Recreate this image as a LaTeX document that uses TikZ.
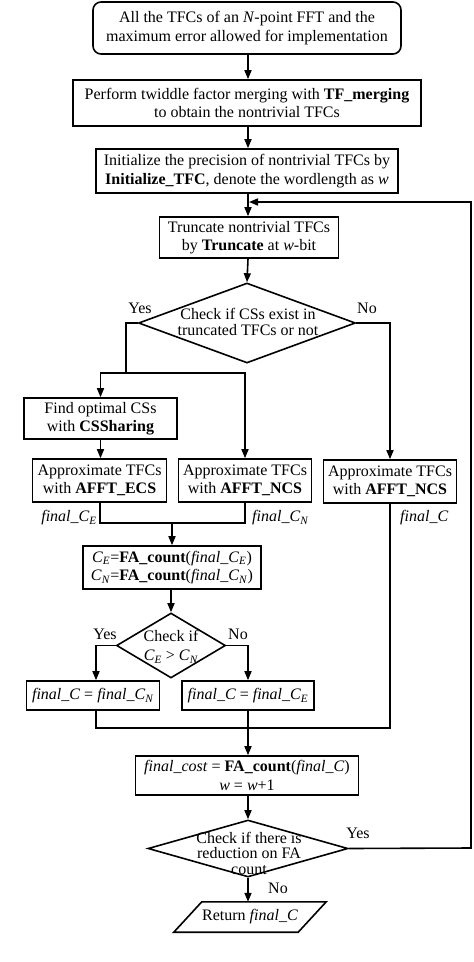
\documentclass[tikz,border=0pt]{standalone}
\usepackage{fontspec}
\setmainfont{Liberation Serif}
\usetikzlibrary{shapes.geometric,arrows.meta}
\tikzset{
  box/.style={draw, line width=1.6pt, align=center, inner sep=0pt, font=\fontsize{16}{18.5}\selectfont},
  dia/.style={draw, diamond, line width=1.6pt, inner sep=0pt},
  dtext/.style={align=center, inner sep=0pt, font=\fontsize{16}{15.5}\selectfont},
  lbl/.style={inner sep=0pt, font=\fontsize{16}{18}\selectfont},
  conn/.style={line width=1.6pt},
  arr/.style={line width=1.6pt, -{Triangle[length=9pt,width=7pt]}},
}
\begin{document}
\begin{tikzpicture}[x=1pt,y=-1pt]
\useasboundingbox (0,0) rectangle (474,962);
% nodes
\node[box, rounded corners=8pt, minimum width=308pt, minimum height=52pt] (start) at (247,28)
  {All the TFCs of an \textit{N}-point FFT and the\\maximum error allowed for implementation};
\node[box, minimum width=348pt, minimum height=46pt] (merge) at (247,103)
  {Perform twiddle factor merging with \textbf{TF\_merging}\\to obtain the nontrivial TFCs};
\node[box, minimum width=302pt, minimum height=44pt] (init) at (247,171)
  {Initialize the precision of nontrivial TFCs by\\\textbf{Initialize\_TFC}, denote the wordlength as \textit{w}};
\node[box, minimum width=179pt, minimum height=41pt] (trunc) at (249,237.5)
  {Truncate nontrivial TFCs\\by \textbf{Truncate} at \textit{w}-bit};
\node[dia, minimum width=217pt, minimum height=80pt] (d1) at (247,323) {};
\node[dtext] (d1t) at (248,322) {Check if CSs exist in\\truncated TFCs or not};
\node[box, minimum width=153pt, minimum height=41pt] (find) at (100.5,418.5)
  {Find optimal CSs\\with \textbf{CSSharing}};
\node[box, minimum width=134pt, minimum height=43pt] (ecs) at (99.5,480.5)
  {Approximate TFCs\\with \textbf{AFFT\_ECS}};
\node[box, minimum width=133pt, minimum height=43pt] (ncs1) at (245,480.5)
  {Approximate TFCs\\with \textbf{AFFT\_NCS}};
\node[box, minimum width=133pt, minimum height=43pt] (ncs2) at (390,481.5)
  {Approximate TFCs\\with \textbf{AFFT\_NCS}};
\node[box, minimum width=178pt, minimum height=43pt] (fa) at (172,567.5)
  {\textit{C}\textsubscript{\textit{E}}=\textbf{FA\_count}(\textit{final\_C}\textsubscript{\textit{E}})\\
   \textit{C}\textsubscript{\textit{N}}=\textbf{FA\_count}(\textit{final\_C}\textsubscript{\textit{N}})};
\node[dia, minimum width=109pt, minimum height=65pt] (d2) at (171,645.5) {};
\node[dtext, font=\fontsize{16}{19}\selectfont] (d2t) at (171,647) {Check if\\\textit{C}\textsubscript{\textit{E}} \textgreater{} \textit{C}\textsubscript{\textit{N}}};
\node[box, minimum width=133pt, minimum height=29pt] (fcn) at (93,695.5)
  {\textit{final\_C} = \textit{final\_C}\textsubscript{\textit{N}}};
\node[box, minimum width=132pt, minimum height=29pt] (fce) at (248,695.5)
  {\textit{final\_C} = \textit{final\_C}\textsubscript{\textit{E}}};
\node[box, minimum width=223pt, minimum height=39pt] (cost) at (247,775.5)
  {\textit{final\_cost} = \textbf{FA\_count}(\textit{final\_C})\\\textit{w} = \textit{w}+1};
\node[dia, minimum width=200pt, minimum height=57pt] (d3) at (248,848.5) {};
\node[dtext] (d3t) at (249,853) {Check if there is\\reduction on FA\\count};
\node[lbl, minimum width=152pt, minimum height=30pt] (ret) at (250,917) {Return \textit{final\_C}};
\draw[conn] ([xshift=28pt]ret.north west) -- (ret.north east) -- ([xshift=-28pt]ret.south east) -- (ret.south west) -- cycle;
% labels
\node[lbl] (y1) at (140,308) {Yes};
\node[lbl] (n1) at (367,308) {No};
\node[lbl, anchor=east] (lce) at (97,518) {\textit{final\_C}\textsubscript{\textit{E}}};
\node[lbl, anchor=west] (lcn) at (252,518) {\textit{final\_C}\textsubscript{\textit{N}}};
\node[lbl, anchor=west] (lc) at (400,518) {\textit{final\_C}};
\node[lbl] (y2) at (105,634) {Yes};
\node[lbl] (n2) at (238,634) {No};
\node[lbl] (y3) at (358,833) {Yes};
\node[lbl] (n3) at (278,888) {No};
% coordinates
\coordinate (j1) at (126,373);
\coordinate (j2) at (172,523);
\coordinate (j3) at (96,728);
\coordinate (j4) at (390,728);
\coordinate (loopR) at (471,848);
\coordinate (loopT) at (471,202);
\coordinate (loopE) at (249,202);
% connectors
\draw[arr] (start.south -| 248,0) -- (merge.north -| 248,0);
\draw[arr] (merge.south -| 248,0) -- (init.north -| 248,0);
\draw[arr] (init.south -| 248,0) -- (trunc.north -| 248,0);
\draw[arr] (trunc.south -| 248,0) -- (d1.north);
\draw[conn] (d1.west) -| (j1);
\draw[arr] (j1) -| (find.north);
\draw[arr] (j1) -| (ncs1.north);
\draw[arr] (d1.east) -| (ncs2.north);
\draw[arr] (find.south) -- (find.south |- ecs.north);
\draw[conn] (ecs.south -| 100,0) |- (j2) -| (ncs1.south);
\draw[arr] (j2) -- (fa.north -| j2);
\draw[arr] (fa.south -| d2.north) -- (d2.north);
\draw[arr] (d2.west) -| (fcn.north -| j3);
\draw[arr] (d2.east) -| (fce.north);
\draw[conn] (fcn.south -| j3) -- (j3) -- (j4) -- (ncs2.south);
\draw[arr] (fce.south) -- (cost.north -| fce.south);
\draw[arr] (cost.south -| d3.north) -- (d3.north);
\draw[arr] (d3.south) -- (ret.north -| d3.south);
\draw[arr] (d3.east) -- (loopR) -- (loopT) -- (loopE);
\end{tikzpicture}
\end{document}
